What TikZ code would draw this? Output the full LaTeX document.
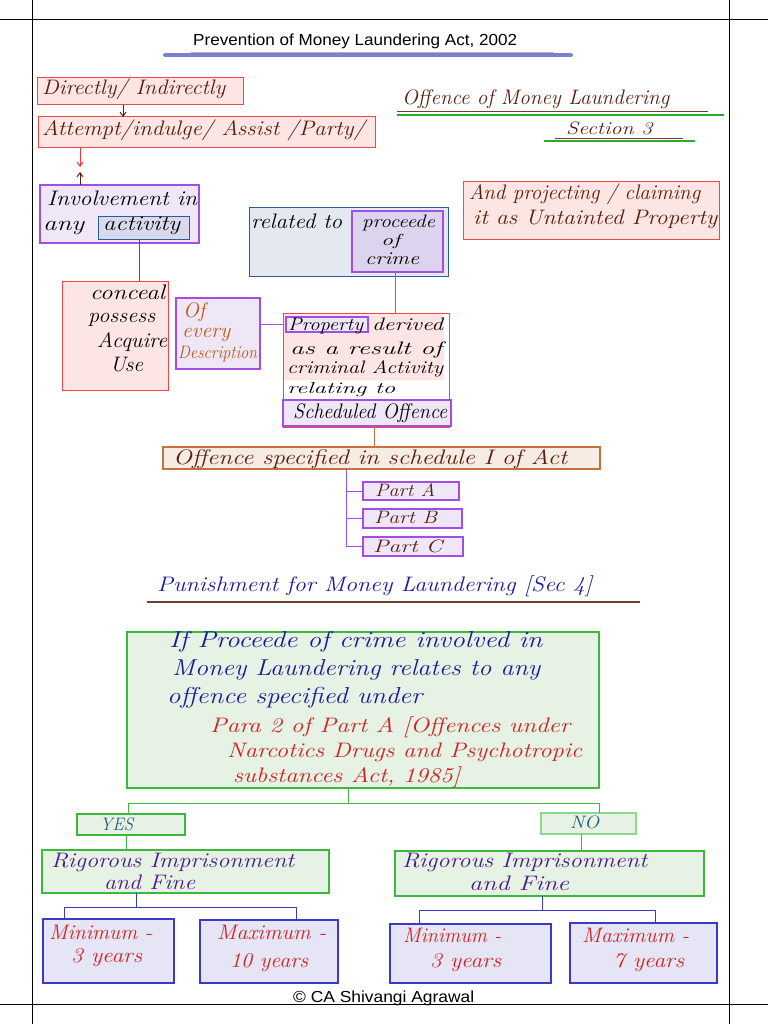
\documentclass[tikz,border=0pt]{standalone}
\usepackage{fontspec}
\usepackage{graphicx}
\newfontfamily\arialf{Liberation Sans}
\usetikzlibrary{arrows.meta}
\definecolor{brownT}{HTML}{5A1E0C}
\definecolor{lineBr}{HTML}{6E4030}
\definecolor{redB}{HTML}{F04848}
\definecolor{pinkF}{HTML}{FDE5E3}
\definecolor{purB}{HTML}{A24DE6}
\definecolor{lavF}{HTML}{EFE6F8}
\definecolor{lav2}{HTML}{DCD4EE}
\definecolor{bluB}{HTML}{2A5C96}
\definecolor{bluF}{HTML}{E4E9F1}
\definecolor{actF}{HTML}{D9D9EE}
\definecolor{grnB}{HTML}{3CB83C}
\definecolor{grnF}{HTML}{E6F2E3}
\definecolor{grnL}{HTML}{8ED88E}
\definecolor{navB}{HTML}{3A3AC8}
\definecolor{navF}{HTML}{E5E5F5}
\definecolor{orgB}{HTML}{C8703C}
\definecolor{orgF}{HTML}{F6ECE4}
\definecolor{orgT}{HTML}{C0560E}
\definecolor{blueT}{HTML}{1A1AA0}
\definecolor{redT}{HTML}{D42020}
\definecolor{purT}{HTML}{4A1A8A}
\definecolor{tealT}{HTML}{1D5C7C}
\definecolor{barC}{HTML}{7C80D2}
\definecolor{grnU}{HTML}{2AAA2A}
\newcommand\boxat[6]{\node[#2, minimum width={#5-#3}, minimum height={#6-#4}] (#1) at (#3,#4) {};}
\newcommand\hwline[6]{\node[hw,#1] (#2) at (#3,{#5+5}) {\resizebox{\dimexpr #4pt-#3pt\relax}{\height}{#6}};}
\begin{document}
\begin{tikzpicture}[x=1pt,y=-1pt,
  hw/.style={font=\fontfamily{lmr}\fontsize{21}{24}\itshape\selectfont, inner sep=0pt, anchor=base west, text=brownT},
  sm/.style={font=\fontfamily{lmr}\fontsize{18}{21}\itshape\selectfont},
  xs/.style={font=\fontfamily{lmr}\fontsize{16}{19}\itshape\selectfont},
  big/.style={font=\fontfamily{lmr}\fontsize{23}{26}\itshape\selectfont},
  bx/.style={anchor=north west, inner sep=0pt, outer sep=0pt, line width=1pt},
  redbox/.style={bx, draw=redB, fill=pinkF},
  purbox/.style={bx, draw=purB, fill=lavF, line width=1.2pt},
  bluebox/.style={bx, draw=bluB, fill=bluF},
  actbox/.style={bx, draw=bluB, fill=actF},
  procbox/.style={bx, draw=purB, fill=lav2, line width=1.2pt},
  orgbox/.style={bx, draw=orgB, fill=orgF, line width=1.2pt},
  grnbox/.style={bx, draw=grnB, fill=grnF, line width=1.2pt},
  nobox/.style={bx, draw=grnL, fill=grnF, line width=1.2pt},
  navbox/.style={bx, draw=navB, fill=navF, line width=1.2pt},
  tip/.style={-{Straight Barb[length=4pt,width=6pt]}},
  conn/.style={line width=1pt}
]
\useasboundingbox (0,0) rectangle (768,1024);
\fill[white] (0,0) rectangle (768,1024);
% crop marks
\draw[line width=0.8pt] (0,19) -- (768,19);
\draw[line width=0.8pt] (0,1004) -- (768,1004);
\draw[line width=0.8pt] (32,0) -- (32,1024);
\draw[line width=0.8pt] (729,0) -- (729,1024);
% title
\node[font=\arialf\fontsize{16}{19}\selectfont, anchor=base west, inner sep=0pt] (title) at (193,46) {\resizebox{324pt}{\height}{Prevention of Money Laundering Act, 2002}};
\draw[gray!60, line width=0.6pt] (191,52) -- (554,52);
\draw[barC, line width=4pt, line cap=round] (165,55) -- (571,55);
% top left boxes
\boxat{dir}{redbox}{37}{78}{243}{105}
\hwline{}{tdir}{42}{225}{90}{Directly/ Indirectly}
\boxat{att}{redbox}{38}{117}{375}{148}
\hwline{}{tatt}{42}{365}{131}{Attempt/indulge/ Assist /Party/}
\draw[conn, brownT, tip] (123,0 |- dir.south) -- (123,0 |- att.north);
% offence of money laundering heading
\hwline{}{toml}{402}{669}{100}{Offence of Money Laundering}
\draw[lineBr, line width=0.9pt] (397,111) -- (708,111);
\draw[grnU, line width=1.2pt] (397,115) -- (724,115);
\hwline{sm}{tsec}{566}{652}{130}{Section 3}
\draw[lineBr, line width=0.9pt] (555,138) -- (683,138);
\draw[grnU, line width=1.5pt] (544,141) -- (695,141);
% involvement
\boxat{inv}{purbox}{40}{185}{199}{243}
\hwline{text=black}{tinv}{47}{197}{201}{Involvement in}
\hwline{text=black}{tany}{43}{84}{226}{any}
\boxat{act}{actbox}{98}{217}{189}{239}
\hwline{text=black}{tact}{103}{180}{226}{activity}
\coordinate (rm) at (80,167);
\coordinate (rb) at (80,172);
\draw[conn, red!80, tip] (80,0 |- att.south) -- (rm);
\draw[conn, brownT, tip] (80,0 |- inv.north) -- (rb);
% conceal
\boxat{conc}{redbox}{62}{281}{168}{390}
\hwline{text=black}{tc1}{90}{165}{294}{conceal}
\hwline{text=black}{tc2}{88}{155}{317}{possess}
\hwline{text=black}{tc3}{97}{167}{342}{Acquire}
\hwline{text=black}{tc4}{110}{143}{366}{Use}
\draw[conn, bluB] (139,0 |- act.south) -- (139,0 |- conc.north);
% related to proceede of crime
\boxat{rel}{bluebox}{249}{208}{448}{276}
\hwline{text=black}{trel}{251}{342}{223}{related to}
\boxat{proc}{procbox}{352}{211}{443}{272}
\hwline{text=black, sm}{tpr1}{362}{435}{223}{proceede}
\hwline{text=black, xs}{tpr2}{381}{400}{241}{of}
\hwline{text=black, sm}{tpr3}{365}{419}{260}{crime}
% untainted property
\boxat{proj}{redbox}{463}{182}{719}{239}
\hwline{}{tpj1}{469}{700}{195}{And projecting / claiming}
\hwline{}{tpj2}{473}{717}{220}{it as Untainted Property}
% of every description
\boxat{ofe}{purbox}{176}{298}{260}{369}
\hwline{text=orgT}{toe1}{183}{205}{312}{Of}
\hwline{text=orgT}{toe2}{182}{230}{332}{every}
\hwline{text=orgT, sm}{toe3}{178}{257}{353}{Description}
% property
\fill[pinkF] (283,313) rectangle (444,380);
\boxat{prop}{bx, draw=redB}{283}{313}{449}{427}
\boxat{pin}{procbox, fill=lavF}{286}{317}{368}{332}
\hwline{text=black, sm}{tp1}{288}{363}{325}{Property}
\hwline{text=black, sm}{tp2}{372}{443}{325}{derived}
\hwline{text=black, sm}{tp3}{290}{442}{349}{as a result of}
\hwline{text=black, sm}{tp4}{287}{443}{368}{criminal Activity}
\hwline{text=black, xs}{tp5}{287}{395}{388}{relating to}
\boxat{sched}{purbox, line width=1.5pt}{283}{400}{451}{426}
\hwline{text=black}{tsch}{293}{447}{413}{Scheduled Offence}
\draw[conn, purB] (395,0 |- proc.south) -- (395,0 |- prop.north);
\draw[conn, purB] (ofe.east |- 0,324) -- (prop.west |- 0,324);
% offence specified
\boxat{osp}{orgbox}{163}{447}{600}{469}
\hwline{}{tosp}{173}{567}{459}{Offence specified in schedule I of Act}
\draw[conn, orgB] (374,0 |- sched.south) -- (374,0 |- osp.north);
\boxat{pa}{purbox}{363}{482}{459}{500}
\boxat{pb}{purbox}{363}{509}{462}{528}
\boxat{pc}{purbox}{363}{537}{463}{556}
\hwline{sm}{tpa}{375}{435}{491}{Part A}
\hwline{sm}{tpb}{374}{437}{518}{Part B}
\hwline{sm}{tpc}{373}{442}{547}{Part C}
\draw[conn, purB] (346,0 |- osp.south) |- (pc.west);
\draw[conn, purB] (346,0 |- pa.west) -- (pa.west);
\draw[conn, purB] (346,0 |- pb.west) -- (pb.west);
% punishment
\hwline{text=blueT}{tpun}{157}{592}{586}{Punishment for Money Laundering [Sec 4]}
\draw[lineBr, line width=1.2pt] (147,602) -- (640,602);
\boxat{gbox}{grnbox}{127}{632}{599}{788}
\hwline{text=blueT, big}{tg1}{169}{542}{642}{If Proceede of crime involved in}
\hwline{text=blueT, big}{tg2}{172}{540}{670}{Money Laundering relates to any}
\hwline{text=blueT, big}{tg3}{167}{422}{698}{offence specified under}
\hwline{text=redT}{tg4}{210}{570}{727}{Para 2 of Part A [Offences under}
\hwline{text=redT}{tg5}{227}{582}{752}{Narcotics Drugs and Psychotropic}
\hwline{text=redT}{tg6}{233}{460}{777}{substances Act, 1985]}
% yes / no
\boxat{yes}{grnbox}{77}{814}{185}{835}
\boxat{no}{nobox}{541}{813}{636}{834}
\hwline{text=tealT, sm}{tyes}{100}{133}{825}{YES}
\hwline{text=tealT, sm}{tno}{570}{599}{823}{NO}
\coordinate (gj) at (348,803);
\draw[conn, grnB] (348,0 |- gbox.south) -- (gj);
\draw[conn, grnB] (128,0 |- yes.north) |- (599,803) -- (599,0 |- no.north);
% rigorous imprisonment
\boxat{ril}{grnbox}{42}{850}{329}{893}
\boxat{rir}{grnbox}{395}{851}{704}{896}
\hwline{text=purT}{tr1}{51}{294}{862}{Rigorous Imprisonment}
\hwline{text=purT}{tr2}{104}{195}{884}{and Fine}
\hwline{text=purT}{tr3}{402}{647}{862}{Rigorous Imprisonment}
\hwline{text=purT}{tr4}{469}{569}{885}{and Fine}
\draw[conn, grnB] (126,0 |- yes.south) -- (126,0 |- ril.north);
\draw[conn, grnB] (581,0 |- no.south) -- (581,0 |- rir.north);
% min / max
\boxat{minl}{navbox}{43}{919}{174}{983}
\boxat{maxl}{navbox}{200}{920}{338}{983}
\boxat{minr}{navbox}{390}{924}{551}{983}
\boxat{maxr}{navbox}{570}{923}{717}{983}
\hwline{text=redT}{tm1}{49}{152}{934}{Minimum -}
\hwline{text=redT}{tm2}{71}{142}{957}{3 years}
\hwline{text=redT}{tm3}{217}{326}{934}{Maximum -}
\hwline{text=redT}{tm4}{230}{308}{962}{10 years}
\hwline{text=redT}{tm5}{403}{501}{937}{Minimum -}
\hwline{text=redT}{tm6}{430}{501}{962}{3 years}
\hwline{text=redT}{tm7}{582}{689}{937}{Maximum -}
\hwline{text=redT}{tm8}{613}{684}{962}{7 years}
\draw[conn, navB] (136,0 |- ril.south) -- (136,907);
\draw[conn, navB] (64,0 |- minl.north) |- (296,907) -- (296,0 |- maxl.north);
\draw[conn, navB] (542,0 |- rir.south) -- (542,910);
\draw[conn, navB] (419,0 |- minr.north) |- (655,910) -- (655,0 |- maxr.north);
% footer
\node[font=\arialf\fontsize{16}{19}\selectfont, anchor=base west, inner sep=0pt] (copy) at (293,1002) {\resizebox{181pt}{\height}{\textcopyright{} CA Shivangi Agrawal}};
\end{tikzpicture}
\end{document}
